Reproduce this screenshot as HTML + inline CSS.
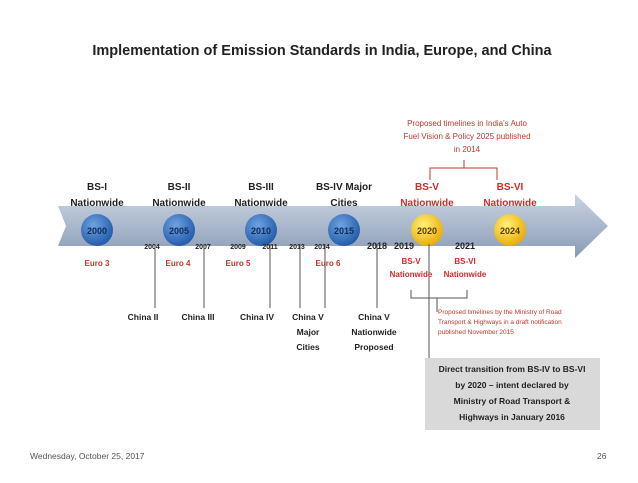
<!DOCTYPE html>
<html><head><meta charset="utf-8"><style>
body{margin:0;width:638px;height:478px;background:#fff;overflow:hidden;font-family:"Liberation Sans",sans-serif}
svg text{font-family:"Liberation Sans",sans-serif}
</style></head><body>
<svg width="638" height="478">
<defs>
<linearGradient id="ag" x1="0" y1="0" x2="0" y2="1"><stop offset="0" stop-color="#c9d3e0"/><stop offset="0.5" stop-color="#aab8cc"/><stop offset="1" stop-color="#8799b4"/></linearGradient>
<radialGradient id="bc" cx="0.4" cy="0.35" r="0.7"><stop offset="0" stop-color="#6fa3e0"/><stop offset="1" stop-color="#1f57a8"/></radialGradient>
<radialGradient id="yc" cx="0.4" cy="0.35" r="0.7"><stop offset="0" stop-color="#fff27a"/><stop offset="1" stop-color="#e8a800"/></radialGradient>
</defs>
<text x="322" y="55" text-anchor="middle" font-size="14.5" font-weight="bold" fill="#222">Implementation of Emission Standards in  India, Europe, and China</text>
<polygon points="58,206 575,206 575,194 608,226 575,258 575,246 58,246 66,226" fill="url(#ag)"/>
<g id="circles"></g>
<g id="lbl" font-size="9" font-weight="bold" text-anchor="middle"></g>
<g stroke="#555" stroke-width="1">
<line x1="155" y1="244" x2="155" y2="308"/><line x1="204" y1="244" x2="204" y2="308"/>
<line x1="270" y1="244" x2="270" y2="308"/><line x1="300" y1="244" x2="300" y2="308"/>
<line x1="325" y1="244" x2="325" y2="308"/><line x1="377" y1="244" x2="377" y2="308"/>
<line x1="429" y1="244" x2="429" y2="358"/>
<polyline points="411,290 411,298 467,298 467,290" fill="none"/><line x1="437" y1="298" x2="437" y2="312"/>
<polyline points="430,180 430,168 497,168 497,180" fill="none" stroke="#c0392b"/><line x1="464" y1="168" x2="464" y2="160" stroke="#c0392b"/>
</g>
<g font-size="8" text-anchor="middle" fill="#c0392b">
<text x="467" y="126">Proposed timelines in India's Auto</text>
<text x="467" y="139">Fuel Vision &amp; Policy 2025 published</text>
<text x="467" y="152">in 2014</text></g>
<g font-size="6.5" fill="#c0392b">
<text x="438" y="314">Proposed timelines by the Ministry of Road</text>
<text x="438" y="324">Transport  &amp; Highways in a draft notification</text>
<text x="438" y="334">published November 2015</text></g>
<rect x="425" y="358" width="175" height="72" fill="#d9d9d9"/>
<g font-size="8.5" font-weight="bold" text-anchor="middle" fill="#222">
<text x="512" y="372">Direct transition from BS-IV to BS-VI</text>
<text x="512" y="388">by 2020 – intent declared by</text>
<text x="512" y="404">Ministry of Road Transport &amp;</text>
<text x="512" y="420">Highways in January 2016</text></g>
<text x="30" y="459" font-size="8.5" fill="#555">Wednesday, October 25, 2017</text>
<text x="597" y="459" font-size="8.5" fill="#555">26</text>
</svg>
<script>
const milestoneYears=["2000","2005","2010","2015","2020","2024"];
const milestoneX=[97,179,261,344,427,510];
const yellow=[false,false,false,false,true,true];
const topLabels=[["BS-I","Nationwide"],["BS-II","Nationwide"],["BS-III","Nationwide"],["BS-IV Major","Cities"],["BS-V","Nationwide"],["BS-VI","Nationwide"]];
const smallYears=[["2004",152],["2007",203],["2009",238],["2011",270],["2013",297],["2014",322],["2018",377],["2019",404],["2021",465]];
const euro=[["Euro 3",97],["Euro 4",178],["Euro 5",238],["Euro 6",328]];
const china=[[["China II"],143],[["China III"],198],[["China IV"],257],[["China V","Major","Cities"],308],[["China V","Nationwide","Proposed"],374]];
const NS="http://www.w3.org/2000/svg";
const c=document.getElementById('circles'),l=document.getElementById('lbl');
function t(p,x,y,s,fill,size,name){const e=document.createElementNS(NS,'text');e.setAttribute('x',x);e.setAttribute('y',y);e.setAttribute('fill',fill);if(size)e.setAttribute('font-size',size);e.textContent=s;


p.appendChild(e);}
milestoneYears.forEach((y,i)=>{const x=milestoneX[i];const ci=document.createElementNS(NS,'circle');ci.setAttribute('cx',x);ci.setAttribute('cy',230);ci.setAttribute('r',16);ci.setAttribute('fill',yellow[i]?'url(#yc)':'url(#bc)');


c.appendChild(ci);
t(l,x,234,y,yellow[i]?'#5a3b00':'#0d2b5c',null,'year-'+y);
const col=yellow[i]?'#d42a2a':'#222';t(l,x,190,topLabels[i][0],col,10,'standard-label');t(l,x,206,topLabels[i][1],col,10,'standard-label');});
smallYears.forEach(([s,x])=>t(l,x,249,s,'#222',x>370?9:7,'year-tick'));
euro.forEach(([s,x])=>t(l,x,266,s,'#c0392b',8,'euro-label'));
t(l,411,264,'BS-V','#d42a2a',8,'bs5-2019');t(l,411,277,'Nationwide','#d42a2a',8,'bs5-2019');
t(l,465,264,'BS-VI','#d42a2a',8,'bs6-2021');t(l,465,277,'Nationwide','#d42a2a',8,'bs6-2021');
china.forEach(([lines,x])=>lines.forEach((s,j)=>t(l,x,320+j*15,s,'#222',8.5,'china-label')));
</script>
</body></html>
